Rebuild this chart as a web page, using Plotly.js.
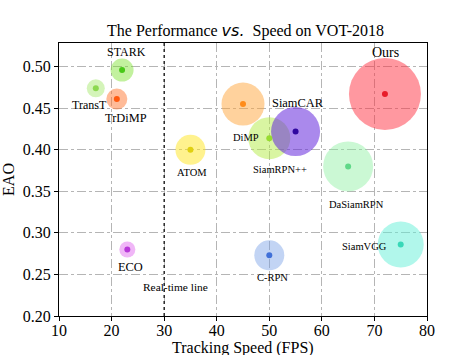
<!DOCTYPE html>
<html>
<head>
<meta charset="utf-8">
<script src="https://cdn.plot.ly/plotly-3.0.1.min.js"></script>
<style>html,body{margin:0;padding:0;background:#fff;}#chart{width:474px;height:355px;}</style>
</head>
<body>
<div id="chart"></div>
<script>
// ---- data ----
const trackers = ["Ours","STARK","TransT","TrDiMP","DiMP","SiamRPN++","SiamCAR","ATOM","DaSiamRPN","SiamVGG","ECO","C-RPN"];
const fps      = [72, 22, 17, 21, 45, 50, 55, 35, 65, 75, 23, 50];
const eao      = [0.467, 0.496, 0.474, 0.461, 0.455, 0.414, 0.422, 0.400, 0.380, 0.286, 0.280, 0.273];
const realtimeFps = 30;
const realtimeLabel = "Real-time line";
const xTicks = [10, 20, 30, 40, 50, 60, 70, 80];
const yTicks = [0.20, 0.25, 0.30, 0.35, 0.40, 0.45, 0.50];

// ---- styles ----
const bubbleDiam = [72, 23, 18, 21, 43, 42, 49, 30, 50, 46, 16, 30];
const bubbleCol  = ["rgba(255,50,65,0.5)","rgba(120,225,40,0.45)","rgba(160,230,100,0.45)","rgba(255,120,50,0.5)",
                    "rgba(255,165,60,0.5)","rgba(180,235,70,0.5)","rgba(100,40,220,0.55)","rgba(255,230,30,0.5)",
                    "rgba(140,240,160,0.45)","rgba(100,240,215,0.5)","rgba(225,110,240,0.5)","rgba(120,160,230,0.45)"];
const dotCol     = ["#e81c2a","#48c818","#8cd850","#ff5a10","#ff8c1a","#98dc30","#3008a0","#e0d010",
                    "#60d888","#38d8b8","#b838d8","#4070d8"];
const labelDx    = [1, 4, -6, 9, 3, 11, 2, 2, 8, -36, 3, 3];
const labelDy    = [-42, -18, 17, 19, 33, 31, -29, 23, 38, 2, 17, 22];
const labelSize  = [14, 12, 12, 12.4, 10.5, 10.5, 12.4, 10.5, 10.5, 10.5, 12.4, 10.5];

const serif = "'Liberation Serif', 'Times New Roman', serif";

const traces = [];
trackers.forEach((name, i) => {
  traces.push({
    type: "scatter", mode: "markers", x: [fps[i]], y: [eao[i]], showlegend: false, hoverinfo: "skip",
    marker: {size: bubbleDiam[i], color: bubbleCol[i], line: {width: 0}}
  });
});
traces.push({
  type: "scatter", mode: "markers", x: fps, y: eao, showlegend: false,
  marker: {size: 6, color: dotCol, line: {width: 0}}
});

const annotations = trackers.map((name, i) => ({
  x: fps[i], y: eao[i], xref: "x", yref: "y", text: name, showarrow: false,
  xshift: labelDx[i], yshift: -labelDy[i],
  font: {family: serif, size: labelSize[i], color: "#000"}
}));
annotations.push({
  x: realtimeFps, y: 0.235, xref: "x", yref: "y", text: realtimeLabel, showarrow: false,
  xshift: 11, font: {family: serif, size: 11.4, color: "#000"}
});
// chart title
annotations.push({
  x: 0.5, y: 1, xref: "paper", yref: "paper", yanchor: "bottom", yshift: 1, xshift: 2, showarrow: false,
  text: "The Performance <i><span style='font-family:DejaVu Sans'>vs.</span></i>  Speed on VOT-2018",
  font: {family: serif, size: 16, color: "#000"}
});
// x-axis title placed under the tick labels
annotations.push({
  x: 0.5, y: 0, xref: "paper", yref: "paper", yanchor: "top", yshift: -21, showarrow: false,
  text: "Tracking Speed (FPS)", font: {family: serif, size: 16, color: "#000"}
});

const layout = {
  width: 474, height: 355,
  margin: {l: 59, r: 47, t: 43, b: 39},
  paper_bgcolor: "#fff", plot_bgcolor: "#fff",
  xaxis: {
    range: [10, 80], tickvals: xTicks, ticktext: xTicks.map(String),
    showline: true, mirror: true, linecolor: "#000", linewidth: 1,
    ticks: "outside", ticklen: 4, tickcolor: "#000", ticklabelstandoff: -4,
    showgrid: true, gridcolor: "#b5b5b5", griddash: "dashdot", gridwidth: 1, zeroline: false,
    tickfont: {family: serif, size: 16, color: "#000"}
  },
  yaxis: {
    range: [0.2, 0.5285], tickvals: yTicks, ticktext: yTicks.map(v => v.toFixed(2)),
    showline: true, mirror: true, linecolor: "#000", linewidth: 1,
    ticks: "outside", ticklen: 4, tickcolor: "#000",
    showgrid: true, gridcolor: "#b5b5b5", griddash: "dashdot", gridwidth: 1, zeroline: false,
    tickfont: {family: serif, size: 16, color: "#000"},
    title: {text: "EAO", font: {family: serif, size: 16, color: "#000"}, standoff: 6}
  },
  shapes: [{
    type: "line", xref: "x", yref: "paper", x0: realtimeFps, x1: realtimeFps, y0: 0, y1: 1,
    line: {color: "#000", width: 1.2, dash: "dot"}, layer: "above"
  }],
  annotations: annotations
};

Plotly.newPlot("chart", traces, layout, {displayModeBar: false, staticPlot: true});
</script>
</body>
</html>
